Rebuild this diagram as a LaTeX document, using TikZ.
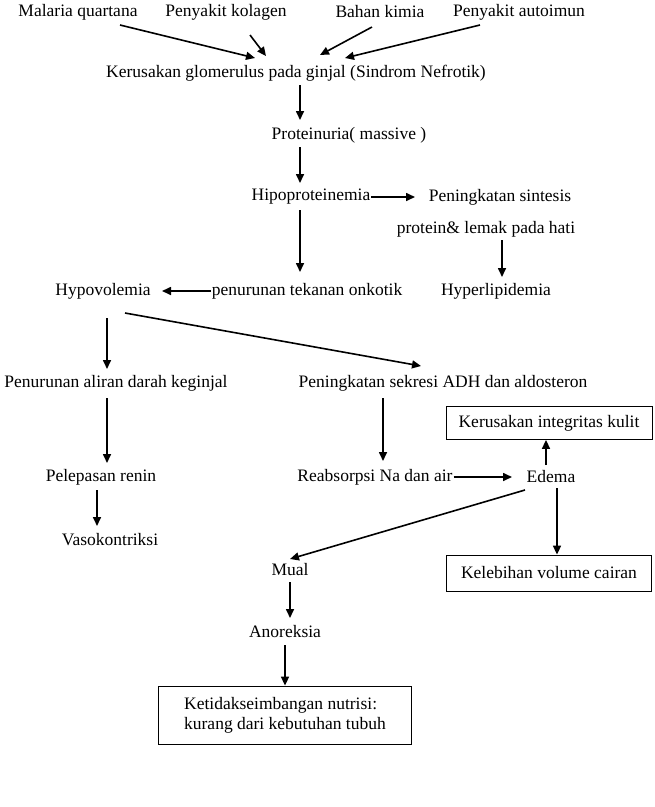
\documentclass[tikz,border=0pt]{standalone}
\usepackage{fontspec}
\setmainfont{Liberation Serif}
\usetikzlibrary{arrows.meta}
\begin{document}
\begin{tikzpicture}[x=1pt,y=-1pt,
  t/.style={inner sep=1pt,font=\fontsize{17.5}{20}\selectfont},
  bx/.style={t,draw,line width=0.8pt,inner sep=5pt,align=left},
  ar/.style={line width=1.6pt,-{Triangle[length=9pt,width=8pt]}}]
\useasboundingbox (0,0) rectangle (655,807);
\node[t] (mq) at (78,12) {Malaria quartana};
\node[t] (pk) at (226,12) {Penyakit kolagen};
\node[t] (bk) at (380,12) {Bahan kimia};
\node[t] (pa) at (519,12) {Penyakit autoimun};
\node[t] (kg) at (296,73) {Kerusakan glomerulus pada ginjal (Sindrom Nefrotik)};
\node[t] (pr) at (349,135) {Proteinuria( massive )};
\node[t] (hp) at (311,197) {Hipoproteinemia};
\node[t] (ps) at (500,197) {Peningkatan sintesis};
\node[t] (pl) at (486,229) {protein\& lemak pada hati};
\node[t] (hv) at (103,291) {Hypovolemia};
\node[t] (pt) at (307,291) {penurunan tekanan onkotik};
\node[t] (hl) at (496,291) {Hyperlipidemia};
\node[t] (pad) at (116,383) {Penurunan aliran darah keginjal};
\node[t] (psa) at (443,383) {Peningkatan sekresi ADH dan aldosteron};
\node[bx,minimum width=206pt,minimum height=33pt,align=center] (ki) at (549,423) {Kerusakan integritas kulit};
\node[t] (rn) at (101,477) {Pelepasan renin};
\node[t] (re) at (375,477) {Reabsorpsi Na dan air};
\node[t] (ed) at (551,477) {Edema};
\node[t] (vk) at (110,540) {Vasokontriksi};
\node[t] (mu) at (290,570) {Mual};
\node[bx,minimum width=205pt,minimum height=36pt,align=center] (kv) at (549,573) {Kelebihan volume cairan};
\node[t] (an) at (285,632) {Anoreksia};
\node[bx,minimum width=253pt,minimum height=58pt] (kt) at (285,715) {Ketidakseimbangan nutrisi:\\kurang dari kebutuhan tubuh};
\draw[ar] (120,25) -- (255,58);
\draw[ar] (250,35) -- (266,56);
\draw[ar] (372,27) -- (320,55);
\draw[ar] (480,25) -- (345,58);
\draw[ar] (300,85) -- (300,120);
\draw[ar] (300,147) -- (300,183);
\draw[ar] (hp.east) -- (415,197);
\draw[ar] (300,210) -- (300,272);
\draw[ar] (502,240) -- (502,277);
\draw[ar] (pt.west) -- (162,291);
\draw[ar] (107,318) -- (107,369);
\draw[ar] (125,313) -- (421,366);
\draw[ar] (107,398) -- (107,463);
\draw[ar] (97,490) -- (97,526);
\draw[ar] (383,398) -- (383,461);
\draw[ar] (re.east) -- (512,477);
\draw[ar] (546,465) -- (ki.south -| 546,0);
\draw[ar] (557,488) -- (kv.north -| 557,0);
\draw[ar] (525,490) -- (290,559);
\draw[ar] (290,582) -- (290,618);
\draw[ar] (285,645) -- (kt.north -| 285,0);
\end{tikzpicture}
\end{document}
